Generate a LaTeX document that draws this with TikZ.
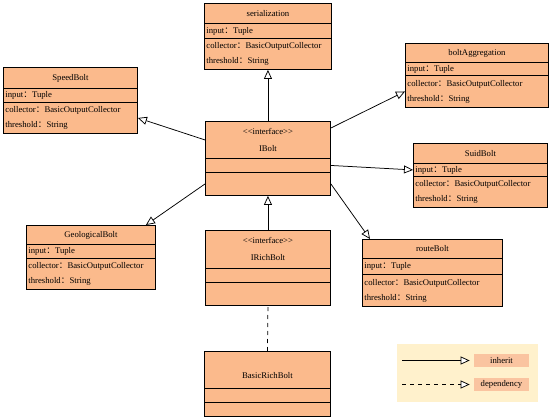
\documentclass[tikz,border=0pt]{standalone}
\usepackage{fontspec}
\setmainfont{Liberation Serif}
\newfontfamily\cjk{Noto Sans CJK SC}
\usetikzlibrary{arrows.meta}

\definecolor{boxfill}{RGB}{251,186,140}
\definecolor{legfill}{RGB}{255,241,204}
\definecolor{tagfill}{RGB}{250,196,160}
\newcommand{\cl}{{\cjk ：}}
\newcommand{\stereo}{{<}{<}interface{>}{>}}

\tikzset{every picture/.style={line width=0.75pt}}
\tikzset{
  row/.style={draw, fill=boxfill, line width=0.9pt, inner xsep=2pt, inner ysep=0pt,
    anchor=north west, align=left, font=\fontsize{8.7}{15}\selectfont},
  head/.style={row, align=center},
  inh/.style={-{Triangle[length=9pt,width=8pt,fill=white]}},
  dep/.style={dash pattern={on 4pt off 4pt}},
  tag/.style={fill=tagfill, inner sep=0pt, minimum width=55, minimum height=13,
    font=\fontsize{8.7}{10}\selectfont}
}

\begin{document}
\begin{tikzpicture}[x=1pt,y=1pt,yscale=-1,xscale=1]
\useasboundingbox (0,0) rectangle (550,420);

% serialization
\node [head, text width=123, minimum height=20] (ser) at (204,3) {serialization};
\node [row, text width=123, minimum height=15] (ser-a) at (204,23) {input\cl Tuple};
\node [row, text width=123, minimum height=31] (ser-o) at (204,38) {collector\cl BasicOutputCollector\\threshold\cl String};

% SpeedBolt
\node [head, text width=130, minimum height=21] (spd) at (3,67) {SpeedBolt};
\node [row, text width=130, minimum height=14] (spd-a) at (3,88) {input\cl Tuple};
\node [row, text width=130, minimum height=31] (spd-o) at (3,102) {collector\cl BasicOutputCollector\\threshold\cl String};

% boltAggregation
\node [head, text width=139, minimum height=19] (agg) at (405,43) {boltAggregation};
\node [row, text width=139, minimum height=13] (agg-a) at (405,62) {input\cl Tuple};
\node [row, text width=139, minimum height=32] (agg-o) at (405,75) {collector\cl BasicOutputCollector\\threshold\cl String};

% IBolt
\node [head, text width=121, minimum height=37] (ib) at (205,121) {\stereo\\[2pt]IBolt};
\node [row, text width=121, minimum height=14] (ib-a) at (205,158) {};
\node [row, text width=121, minimum height=23] (ib-o) at (205,172) {};

% SuidBolt
\node [head, text width=130, minimum height=20] (suid) at (413,143) {SuidBolt};
\node [row, text width=130, minimum height=13] (suid-a) at (413,163) {input\cl Tuple};
\node [row, text width=130, minimum height=31] (suid-o) at (413,176) {collector\cl BasicOutputCollector\\threshold\cl String};

% GeologicalBolt
\node [head, text width=125, minimum height=19] (geo) at (26,225) {GeologicalBolt};
\node [row, text width=125, minimum height=14] (geo-a) at (26,244) {input\cl Tuple};
\node [row, text width=125, minimum height=31] (geo-o) at (26,258) {collector\cl BasicOutputCollector\\threshold\cl String};

% IRichBolt
\node [head, text width=121, minimum height=38] (irb) at (205,230) {\stereo\\[2pt]IRichBolt};
\node [row, text width=121, minimum height=14] (irb-a) at (205,268) {};
\node [row, text width=121, minimum height=23] (irb-o) at (205,282) {};

% routeBolt
\node [head, text width=136, minimum height=19] (rte) at (362,239) {routeBolt};
\node [row, text width=136, minimum height=16] (rte-a) at (362,258) {input\cl Tuple};
\node [row, text width=136, minimum height=32] (rte-o) at (362,274) {collector\cl BasicOutputCollector\\threshold\cl String};

% BasicRichBolt
\node [head, text width=122, minimum height=37] (brb) at (204,351) {\mbox{}\\[2pt]BasicRichBolt};
\node [row, text width=122, minimum height=14] (brb-a) at (204,388) {};
\node [row, text width=122, minimum height=14] (brb-o) at (204,402) {};

% inherit lines
\draw [inh] (ib.north) -- (ser-o.south);
\draw [inh] (ib.west) -- (spd-o.east);
\draw [inh] ([yshift=7]ib.north east) -- (agg-o.west);
\draw [inh] (ib-a.east) -- (suid-a.west);
\draw [inh] (ib-o.west) -- ([xshift=-10]geo.north east);
\draw [inh] (ib-o.east) -- ([xshift=8]rte.north west);
\draw [inh] (irb.north) -- (ib-o.south);
% dependency line
\draw [dep] (brb.north) -- (irb-o.south);

% legend
\node [fill=legfill, inner sep=0pt, minimum width=141, minimum height=58, anchor=north west] (leg) at (397,344) {};
\node [tag] (tag-inh) at (501.5,360.5) {inherit};
\node [tag] (tag-dep) at (501.5,384.5) {dependency};
\coordinate (l-inh) at (402,360.5);
\coordinate (l-dep) at (402,384.5);
\draw [inh, shorten >=4pt] (l-inh) -- (tag-inh.west);
\draw [inh, dep, shorten >=4pt] (l-dep) -- (tag-dep.west);

\end{tikzpicture}
\end{document}
